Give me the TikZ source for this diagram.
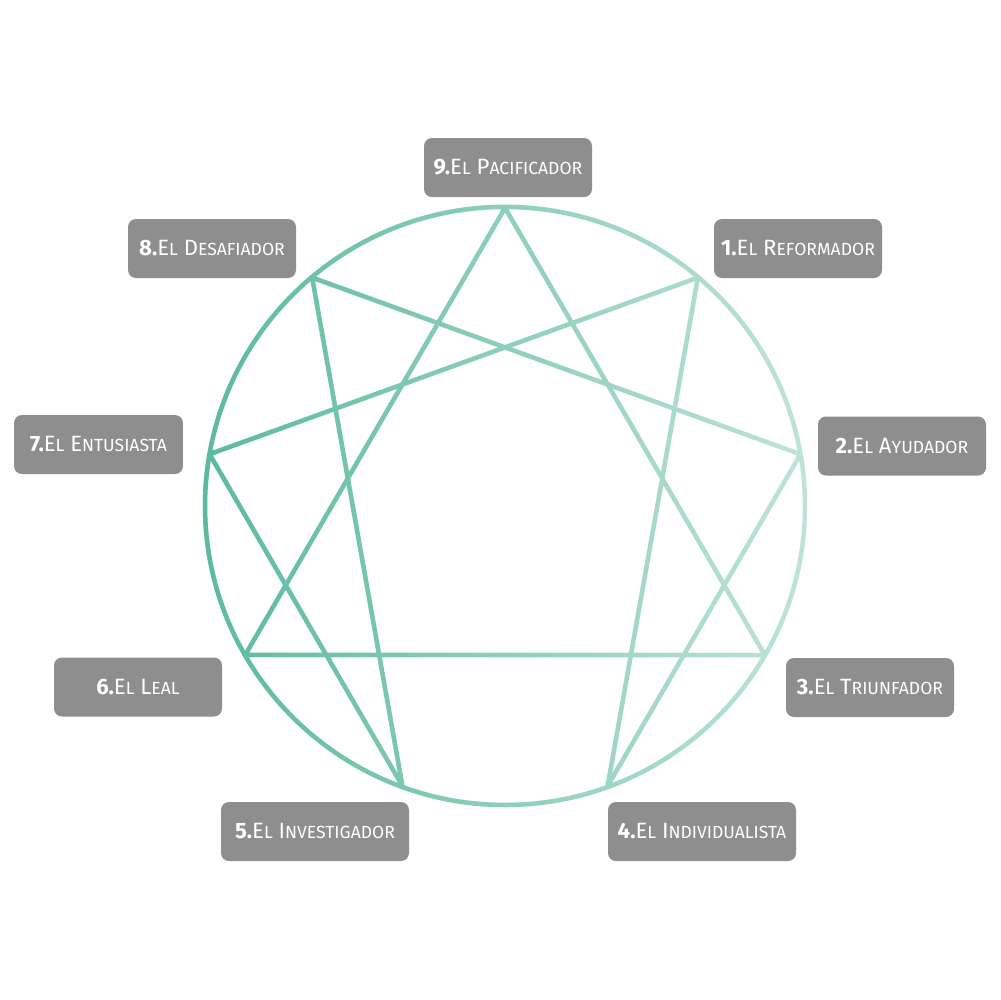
\documentclass[tikz,border=0pt]{standalone}
\usepackage{fontspec}
\setmainfont{Fira Sans}
\usetikzlibrary{fadings}
\definecolor{tealdark}{HTML}{5CBAA0}
\definecolor{teallight}{HTML}{C0E4DA}
\definecolor{boxgray}{HTML}{8E8E8E}
\tikzfading[name=hfade, left color=transparent!0, right color=transparent!100]
\newcommand\sct[1]{{\fontsize{5.0}{6}\selectfont #1}}
\begin{document}
\begin{tikzpicture}[x=0.1mm,y=-0.1mm,
  lbl/.style={fill=boxgray, rounded corners=0.8mm, text=white, minimum height=5.9mm,
    inner sep=0pt, font=\fontsize{6.3}{8}\selectfont},
  enn/.style={line width=0.45mm, line join=round}]
\useasboundingbox[fill=white] (0,0) rectangle (1000,1000);
\foreach \k in {1,...,9}
  \coordinate (p\k) at ({505+300*sin(40*\k)},{506-298*cos(40*\k)});
\coordinate (c) at (505,506);
% light layer
\draw[enn, teallight] (c) ellipse[x radius=300, y radius=299]
  (p9)--(p3)--(p6)--cycle
  (p1)--(p4)--(p2)--(p8)--(p5)--(p7)--cycle;
% dark layer fading to the right
\draw[enn, tealdark, path fading=hfade] (c) ellipse[x radius=300, y radius=299]
  (p9)--(p3)--(p6)--cycle
  (p1)--(p4)--(p2)--(p8)--(p5)--(p7)--cycle;
% labels
\node[lbl, minimum width=16.8mm] (l9) at (508,167.5) {{\bfseries 9.}E\sct{L} P\sct{ACIFICADOR}};
\node[lbl, minimum width=16.8mm] (l8) at (212,248.5) {{\bfseries 8.}E\sct{L} D\sct{ESAFIADOR}};
\node[lbl, minimum width=16.8mm] (l1) at (798,248.5) {{\bfseries 1.}E\sct{L} R\sct{EFORMADOR}};
\node[lbl, minimum width=16.9mm] (l7) at (98.5,444.5) {{\bfseries 7.}E\sct{L} E\sct{NTUSIASTA}};
\node[lbl, minimum width=16.8mm] (l2) at (902,446) {{\bfseries 2.}E\sct{L} A\sct{YUDADOR}};
\node[lbl, minimum width=16.8mm] (l6) at (138,687) {{\bfseries 6.}E\sct{L} L\sct{EAL}};
\node[lbl, minimum width=16.8mm] (l3) at (870,687.5) {{\bfseries 3.}E\sct{L} T\sct{RIUNFADOR}};
\node[lbl, minimum width=18.8mm] (l5) at (315,831.5) {{\bfseries 5.}E\sct{L} I\sct{NVESTIGADOR}};
\node[lbl, minimum width=18.8mm] (l4) at (702,831.5) {{\bfseries 4.}E\sct{L} I\sct{NDIVIDUALISTA}};
\end{tikzpicture}
\end{document}
